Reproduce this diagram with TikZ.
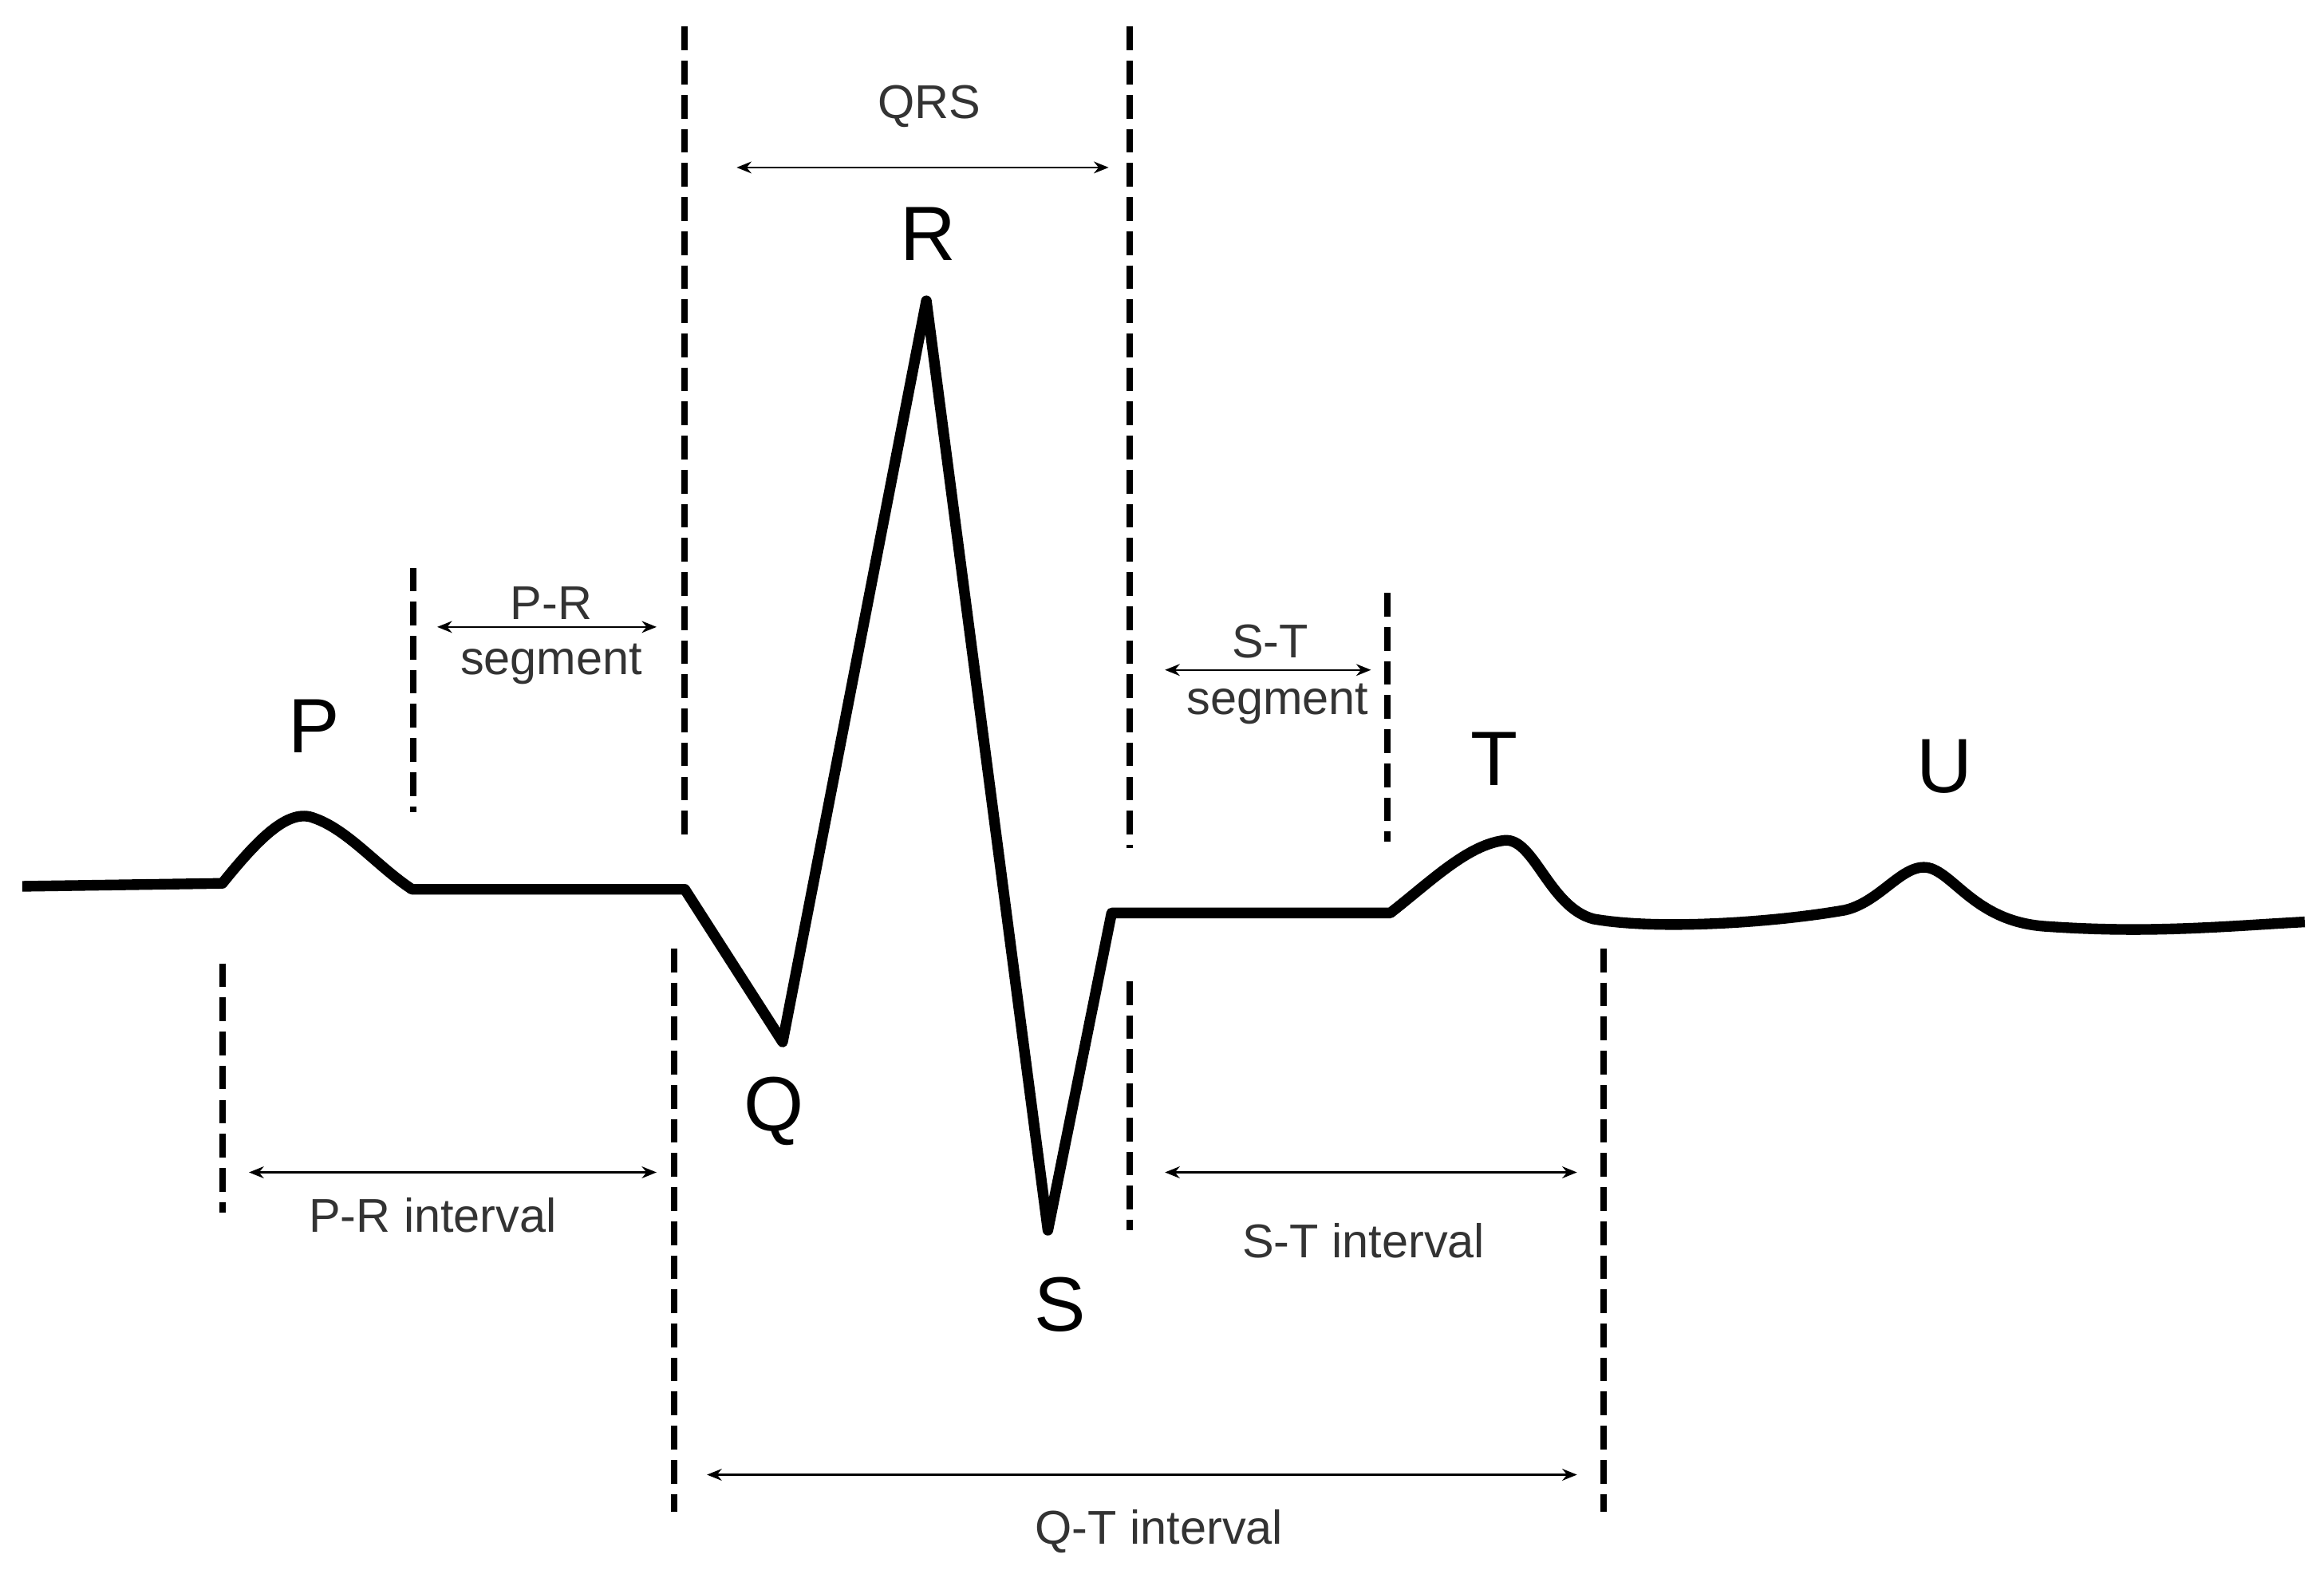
\documentclass[tikz,border=0pt]{standalone}
\usepackage{fontspec}
\setmainfont{Liberation Sans}
\usetikzlibrary{arrows.meta}
\begin{document}
\begin{tikzpicture}[x=0.5pt,y=-0.5pt,
  wave/.style={line width=3.6pt,line join=round},
  guide/.style={line width=2.2pt,dash pattern=on 8pt off 3.5pt},
  dim/.style={line width=0.6pt,{Stealth[length=5pt,width=4pt]}-{Stealth[length=5pt,width=4pt]}},
  big/.style={font=\fontsize{26}{30}\selectfont},
  small/.style={font=\fontsize{16}{19}\selectfont,text=black!80}]
\useasboundingbox (0,0) rectangle (1568,1067);
% waveform
\draw[wave] (15,598) -- (150,596) .. controls (175,565) and (195,545) .. (212,552)
  .. controls (235,560) and (255,585) .. (278,600) -- (462,600) -- (528,703) -- (625,203)
  -- (707,830) -- (750,616) -- (938,616) .. controls (965,595) and (990,570) .. (1015,567)
  .. controls (1035,565) and (1045,612) .. (1075,620) .. controls (1120,628) and (1200,622) .. (1245,614)
  .. controls (1270,608) and (1285,580) .. (1303,586) .. controls (1320,592) and (1335,622) .. (1380,625)
  .. controls (1450,630) and (1500,625) .. (1555,622);
% dashed guides
\draw[guide] (279,383) -- (279,548);
\draw[guide] (462,18) -- (462,568);
\draw[guide] (762,18) -- (762,572);
\draw[guide] (936,400) -- (936,568);
\draw[guide] (150,650) -- (150,818);
\draw[guide] (455,640) -- (455,1020);
\draw[guide] (762,662) -- (762,830);
\draw[guide] (1082,640) -- (1082,1020);
% dimension arrows
\coordinate (qa) at (497,113); \coordinate (qb) at (748,113);
\coordinate (pra) at (295,423); \coordinate (prb) at (443,423);
\coordinate (sta) at (786,452); \coordinate (stb) at (925,452);
\coordinate (pia) at (168,791); \coordinate (pib) at (443,791);
\coordinate (sia) at (786,791); \coordinate (sib) at (1064,791);
\coordinate (qta) at (477,995); \coordinate (qtb) at (1064,995);
\draw[dim] (qa) -- (qb);
\draw[dim] (pra) -- (prb);
\draw[dim] (sta) -- (stb);
\draw[dim] (pia) -- (pib);
\draw[dim] (sia) -- (sib);
\draw[dim] (qta) -- (qtb);
% labels
\node[small] (lqrs) at (627,72) {QRS};
\node[small] (lpr1) at (372,407) {P-R};
\node[small] (lpr2) at (372,448) {segment};
\node[small] (lst1) at (857,433) {S-T};
\node[small] (lst2) at (862,475) {segment};
\node[small] (lpri) at (292,820) {P-R interval};
\node[small] (lsti) at (920,837) {S-T interval};
\node[small] (lqti) at (782,1033) {Q-T interval};
\node[big] (lP) at (212,490) {P};
\node[big] (lR) at (626,158) {R};
\node[big] (lQ) at (522,750) {Q};
\node[big] (lS) at (715,880) {S};
\node[big] (lT) at (1008,512) {T};
\node[big] (lU) at (1312,517) {U};
\end{tikzpicture}
\end{document}
